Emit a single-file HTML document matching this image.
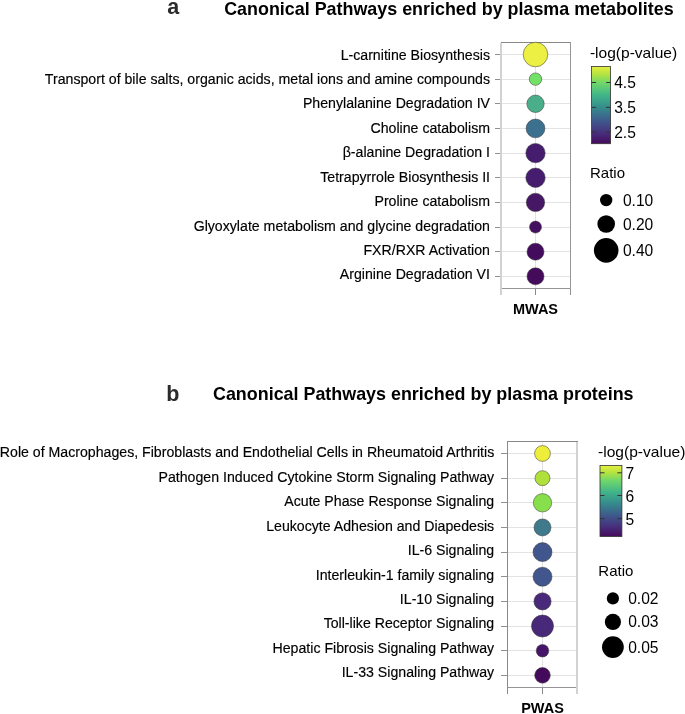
<!DOCTYPE html><html><head><meta charset="utf-8"><style>html,body{margin:0;padding:0;background:#fff;}svg{display:block;}</style></head><body>
<svg width="685" height="714" viewBox="0 0 685 714" font-family='"Liberation Sans", Arial, Helvetica, sans-serif'>
<defs>
<linearGradient id="g0" x1="0" y1="1" x2="0" y2="0">
<stop offset="0" stop-color="#450a5c"/>
<stop offset="0.14" stop-color="#472f7d"/>
<stop offset="0.3" stop-color="#3e5a8c"/>
<stop offset="0.47" stop-color="#358c8c"/>
<stop offset="0.62" stop-color="#3fb38a"/>
<stop offset="0.79" stop-color="#70d86a"/>
<stop offset="0.9" stop-color="#b5e340"/>
<stop offset="1" stop-color="#e6ee40"/>
</linearGradient>
<linearGradient id="g1" x1="0" y1="1" x2="0" y2="0">
<stop offset="0" stop-color="#450a5c"/>
<stop offset="0.14" stop-color="#472f7d"/>
<stop offset="0.3" stop-color="#3e5a8c"/>
<stop offset="0.47" stop-color="#358c8c"/>
<stop offset="0.62" stop-color="#3fb38a"/>
<stop offset="0.79" stop-color="#70d86a"/>
<stop offset="0.9" stop-color="#b5e340"/>
<stop offset="1" stop-color="#e6ee40"/>
</linearGradient>
</defs>
<rect width="685" height="714" fill="#fff"/>
<text x="167.2" y="13.6" font-size="21.5" font-weight="bold" fill="#2b2b2b">a</text>
<text x="224.2" y="14.5" font-size="17.9" font-weight="bold" fill="#000">Canonical Pathways enriched by plasma metabolites</text>
<line x1="501" y1="54.5" x2="570" y2="54.5" stroke="#e3e3e3" stroke-width="1"/>
<line x1="501" y1="79.5" x2="570" y2="79.5" stroke="#e3e3e3" stroke-width="1"/>
<line x1="501" y1="103.5" x2="570" y2="103.5" stroke="#e3e3e3" stroke-width="1"/>
<line x1="501" y1="128.5" x2="570" y2="128.5" stroke="#e3e3e3" stroke-width="1"/>
<line x1="501" y1="153.5" x2="570" y2="153.5" stroke="#e3e3e3" stroke-width="1"/>
<line x1="501" y1="177.5" x2="570" y2="177.5" stroke="#e3e3e3" stroke-width="1"/>
<line x1="501" y1="202.5" x2="570" y2="202.5" stroke="#e3e3e3" stroke-width="1"/>
<line x1="501" y1="227.5" x2="570" y2="227.5" stroke="#e3e3e3" stroke-width="1"/>
<line x1="501" y1="251.5" x2="570" y2="251.5" stroke="#e3e3e3" stroke-width="1"/>
<line x1="501" y1="276.5" x2="570" y2="276.5" stroke="#e3e3e3" stroke-width="1"/>
<line x1="535.5" y1="43" x2="535.5" y2="288" stroke="#e3e3e3" stroke-width="1"/>
<line x1="501" y1="42.5" x2="571" y2="42.5" stroke="#888" stroke-width="1"/>
<line x1="500" y1="288.5" x2="571" y2="288.5" stroke="#959595" stroke-width="1"/>
<rect x="500" y="43" width="2" height="252" fill="#d2d2d2"/>
<line x1="570.5" y1="42" x2="570.5" y2="295" stroke="#959595" stroke-width="1"/>
<line x1="535.5" y1="289" x2="535.5" y2="295" stroke="#8a8a8a" stroke-width="1"/>
<line x1="495" y1="54.5" x2="500" y2="54.5" stroke="#8f8f8f" stroke-width="1"/>
<line x1="495" y1="79.5" x2="500" y2="79.5" stroke="#8f8f8f" stroke-width="1"/>
<line x1="495" y1="103.5" x2="500" y2="103.5" stroke="#8f8f8f" stroke-width="1"/>
<line x1="495" y1="128.5" x2="500" y2="128.5" stroke="#8f8f8f" stroke-width="1"/>
<line x1="495" y1="153.5" x2="500" y2="153.5" stroke="#8f8f8f" stroke-width="1"/>
<line x1="495" y1="177.5" x2="500" y2="177.5" stroke="#8f8f8f" stroke-width="1"/>
<line x1="495" y1="202.5" x2="500" y2="202.5" stroke="#8f8f8f" stroke-width="1"/>
<line x1="495" y1="227.5" x2="500" y2="227.5" stroke="#8f8f8f" stroke-width="1"/>
<line x1="495" y1="251.5" x2="500" y2="251.5" stroke="#8f8f8f" stroke-width="1"/>
<line x1="495" y1="276.5" x2="500" y2="276.5" stroke="#8f8f8f" stroke-width="1"/>
<text x="490" y="59.6" font-size="14.15" text-anchor="end" fill="#000" stroke="#000" stroke-width="0.15">L-carnitine Biosynthesis</text>
<text x="490" y="84.02" font-size="14.15" text-anchor="end" fill="#000" stroke="#000" stroke-width="0.15">Transport of bile salts, organic acids, metal ions and amine compounds</text>
<text x="490" y="108.44" font-size="14.15" text-anchor="end" fill="#000" stroke="#000" stroke-width="0.15">Phenylalanine Degradation IV</text>
<text x="490" y="132.86" font-size="14.15" text-anchor="end" fill="#000" stroke="#000" stroke-width="0.15">Choline catabolism</text>
<text x="490" y="157.28" font-size="14.15" text-anchor="end" fill="#000" stroke="#000" stroke-width="0.15">β-alanine Degradation I</text>
<text x="490" y="181.7" font-size="14.15" text-anchor="end" fill="#000" stroke="#000" stroke-width="0.15">Tetrapyrrole Biosynthesis II</text>
<text x="490" y="206.12" font-size="14.15" text-anchor="end" fill="#000" stroke="#000" stroke-width="0.15">Proline catabolism</text>
<text x="490" y="230.54" font-size="14.15" text-anchor="end" fill="#000" stroke="#000" stroke-width="0.15">Glyoxylate metabolism and glycine degradation</text>
<text x="490" y="254.96" font-size="14.15" text-anchor="end" fill="#000" stroke="#000" stroke-width="0.15">FXR/RXR Activation</text>
<text x="490" y="279.38" font-size="14.15" text-anchor="end" fill="#000" stroke="#000" stroke-width="0.15">Arginine Degradation VI</text>
<circle cx="535.5" cy="54.5" r="12.3" fill="#ecf043" stroke="#3a3a3a" stroke-opacity="0.75" stroke-width="0.7"/>
<circle cx="535.5" cy="79.15" r="6.2" fill="#73e068" stroke="#3a3a3a" stroke-opacity="0.75" stroke-width="0.7"/>
<circle cx="535.5" cy="103.8" r="8.7" fill="#4aae8b" stroke="#3a3a3a" stroke-opacity="0.75" stroke-width="0.7"/>
<circle cx="535.5" cy="128.45" r="9.4" fill="#3b718f" stroke="#3a3a3a" stroke-opacity="0.75" stroke-width="0.7"/>
<circle cx="535.5" cy="153.1" r="9.7" fill="#461c6f" stroke="#3a3a3a" stroke-opacity="0.75" stroke-width="0.7"/>
<circle cx="535.5" cy="177.75" r="9.7" fill="#461c6f" stroke="#3a3a3a" stroke-opacity="0.75" stroke-width="0.7"/>
<circle cx="535.5" cy="202.4" r="9.2" fill="#461765" stroke="#3a3a3a" stroke-opacity="0.75" stroke-width="0.7"/>
<circle cx="535.5" cy="227.05" r="6" fill="#450f60" stroke="#3a3a3a" stroke-opacity="0.75" stroke-width="0.7"/>
<circle cx="535.5" cy="251.7" r="8.5" fill="#440c5d" stroke="#3a3a3a" stroke-opacity="0.75" stroke-width="0.7"/>
<circle cx="535.5" cy="276.35" r="8.5" fill="#440b5b" stroke="#3a3a3a" stroke-opacity="0.75" stroke-width="0.7"/>
<text x="535.5" y="313.8" font-size="14.5" font-weight="bold" text-anchor="middle" fill="#000">MWAS</text>
<text x="589.9" y="57.67" font-size="15.55" fill="#000">-log(p-value)</text>
<rect x="591.6" y="66.5" width="19" height="77.2" fill="url(#g0)" stroke="#333" stroke-width="0.8"/>
<line x1="591.6" y1="82.5" x2="596.1" y2="82.5" stroke="#333" stroke-width="1"/>
<line x1="606.1" y1="82.5" x2="610.6" y2="82.5" stroke="#333" stroke-width="1"/>
<text x="614.2" y="88.08" font-size="15.6" fill="#000">4.5</text>
<line x1="591.6" y1="107.4" x2="596.1" y2="107.4" stroke="#333" stroke-width="1"/>
<line x1="606.1" y1="107.4" x2="610.6" y2="107.4" stroke="#333" stroke-width="1"/>
<text x="614.2" y="112.98" font-size="15.6" fill="#000">3.5</text>
<line x1="591.6" y1="132.2" x2="596.1" y2="132.2" stroke="#333" stroke-width="1"/>
<line x1="606.1" y1="132.2" x2="610.6" y2="132.2" stroke="#333" stroke-width="1"/>
<text x="614.2" y="137.78" font-size="15.6" fill="#000">2.5</text>
<text x="590" y="178" font-size="15" fill="#000">Ratio</text>
<circle cx="606.2" cy="200.1" r="6.2" fill="#000"/>
<text x="622.9" y="205.68" font-size="15.6" fill="#000">0.10</text>
<circle cx="606.2" cy="224" r="8.8" fill="#000"/>
<text x="622.9" y="229.58" font-size="15.6" fill="#000">0.20</text>
<circle cx="606.2" cy="250.4" r="12.3" fill="#000"/>
<text x="622.9" y="255.98" font-size="15.6" fill="#000">0.40</text>
<text x="166.3" y="400.9" font-size="21.5" font-weight="bold" fill="#2b2b2b">b</text>
<text x="213" y="399.9" font-size="17.9" font-weight="bold" fill="#000">Canonical Pathways enriched by plasma proteins</text>
<line x1="508" y1="453.5" x2="577" y2="453.5" stroke="#e3e3e3" stroke-width="1"/>
<line x1="508" y1="478.5" x2="577" y2="478.5" stroke="#e3e3e3" stroke-width="1"/>
<line x1="508" y1="502.5" x2="577" y2="502.5" stroke="#e3e3e3" stroke-width="1"/>
<line x1="508" y1="527.5" x2="577" y2="527.5" stroke="#e3e3e3" stroke-width="1"/>
<line x1="508" y1="552.5" x2="577" y2="552.5" stroke="#e3e3e3" stroke-width="1"/>
<line x1="508" y1="576.5" x2="577" y2="576.5" stroke="#e3e3e3" stroke-width="1"/>
<line x1="508" y1="601.5" x2="577" y2="601.5" stroke="#e3e3e3" stroke-width="1"/>
<line x1="508" y1="626.5" x2="577" y2="626.5" stroke="#e3e3e3" stroke-width="1"/>
<line x1="508" y1="650.5" x2="577" y2="650.5" stroke="#e3e3e3" stroke-width="1"/>
<line x1="508" y1="675.5" x2="577" y2="675.5" stroke="#e3e3e3" stroke-width="1"/>
<line x1="542.5" y1="442" x2="542.5" y2="687" stroke="#e3e3e3" stroke-width="1"/>
<line x1="507" y1="441.5" x2="578" y2="441.5" stroke="#888" stroke-width="1"/>
<line x1="507" y1="687.5" x2="578" y2="687.5" stroke="#959595" stroke-width="1"/>
<line x1="507.5" y1="441" x2="507.5" y2="694" stroke="#8a8a8a" stroke-width="1"/>
<rect x="576" y="442" width="2" height="252" fill="#d2d2d2"/>
<line x1="542.5" y1="688" x2="542.5" y2="694" stroke="#8a8a8a" stroke-width="1"/>
<line x1="501" y1="453.5" x2="507" y2="453.5" stroke="#8f8f8f" stroke-width="1"/>
<line x1="501" y1="478.5" x2="507" y2="478.5" stroke="#8f8f8f" stroke-width="1"/>
<line x1="501" y1="502.5" x2="507" y2="502.5" stroke="#8f8f8f" stroke-width="1"/>
<line x1="501" y1="527.5" x2="507" y2="527.5" stroke="#8f8f8f" stroke-width="1"/>
<line x1="501" y1="552.5" x2="507" y2="552.5" stroke="#8f8f8f" stroke-width="1"/>
<line x1="501" y1="576.5" x2="507" y2="576.5" stroke="#8f8f8f" stroke-width="1"/>
<line x1="501" y1="601.5" x2="507" y2="601.5" stroke="#8f8f8f" stroke-width="1"/>
<line x1="501" y1="626.5" x2="507" y2="626.5" stroke="#8f8f8f" stroke-width="1"/>
<line x1="501" y1="650.5" x2="507" y2="650.5" stroke="#8f8f8f" stroke-width="1"/>
<line x1="501" y1="675.5" x2="507" y2="675.5" stroke="#8f8f8f" stroke-width="1"/>
<text x="494.2" y="457.3" font-size="14.15" text-anchor="end" fill="#000" stroke="#000" stroke-width="0.15">Role of Macrophages, Fibroblasts and Endothelial Cells in Rheumatoid Arthritis</text>
<text x="494.2" y="481.75" font-size="14.15" text-anchor="end" fill="#000" stroke="#000" stroke-width="0.15">Pathogen Induced Cytokine Storm Signaling Pathway</text>
<text x="494.2" y="506.2" font-size="14.15" text-anchor="end" fill="#000" stroke="#000" stroke-width="0.15">Acute Phase Response Signaling</text>
<text x="494.2" y="530.65" font-size="14.15" text-anchor="end" fill="#000" stroke="#000" stroke-width="0.15">Leukocyte Adhesion and Diapedesis</text>
<text x="494.2" y="555.1" font-size="14.15" text-anchor="end" fill="#000" stroke="#000" stroke-width="0.15">IL-6 Signaling</text>
<text x="494.2" y="579.55" font-size="14.15" text-anchor="end" fill="#000" stroke="#000" stroke-width="0.15">Interleukin-1 family signaling</text>
<text x="494.2" y="604" font-size="14.15" text-anchor="end" fill="#000" stroke="#000" stroke-width="0.15">IL-10 Signaling</text>
<text x="494.2" y="628.45" font-size="14.15" text-anchor="end" fill="#000" stroke="#000" stroke-width="0.15">Toll-like Receptor Signaling</text>
<text x="494.2" y="652.9" font-size="14.15" text-anchor="end" fill="#000" stroke="#000" stroke-width="0.15">Hepatic Fibrosis Signaling Pathway</text>
<text x="494.2" y="677.35" font-size="14.15" text-anchor="end" fill="#000" stroke="#000" stroke-width="0.15">IL-33 Signaling Pathway</text>
<circle cx="542.5" cy="453.5" r="7.9" fill="#eeee3a" stroke="#3a3a3a" stroke-opacity="0.75" stroke-width="0.7"/>
<circle cx="542.5" cy="478.15" r="7.5" fill="#b0e03a" stroke="#3a3a3a" stroke-opacity="0.75" stroke-width="0.7"/>
<circle cx="542.5" cy="502.8" r="9.2" fill="#88df4c" stroke="#3a3a3a" stroke-opacity="0.75" stroke-width="0.7"/>
<circle cx="542.5" cy="527.45" r="8.5" fill="#3f7a8c" stroke="#3a3a3a" stroke-opacity="0.75" stroke-width="0.7"/>
<circle cx="542.5" cy="552.1" r="9.5" fill="#40568c" stroke="#3a3a3a" stroke-opacity="0.75" stroke-width="0.7"/>
<circle cx="542.5" cy="576.75" r="9.5" fill="#40568c" stroke="#3a3a3a" stroke-opacity="0.75" stroke-width="0.7"/>
<circle cx="542.5" cy="601.4" r="8.6" fill="#48297a" stroke="#3a3a3a" stroke-opacity="0.75" stroke-width="0.7"/>
<circle cx="542.5" cy="626.05" r="11" fill="#482878" stroke="#3a3a3a" stroke-opacity="0.75" stroke-width="0.7"/>
<circle cx="542.5" cy="650.7" r="6.3" fill="#46146a" stroke="#3a3a3a" stroke-opacity="0.75" stroke-width="0.7"/>
<circle cx="542.5" cy="675.35" r="7.8" fill="#440a5c" stroke="#3a3a3a" stroke-opacity="0.75" stroke-width="0.7"/>
<text x="542.5" y="712.6" font-size="14.5" font-weight="bold" text-anchor="middle" fill="#000">PWAS</text>
<text x="598.1" y="456.77" font-size="15.55" fill="#000">-log(p-value)</text>
<rect x="600" y="465.5" width="21.9" height="71" fill="url(#g1)" stroke="#333" stroke-width="0.8"/>
<line x1="600" y1="472.8" x2="604.5" y2="472.8" stroke="#333" stroke-width="1"/>
<line x1="617.4" y1="472.8" x2="621.9" y2="472.8" stroke="#333" stroke-width="1"/>
<text x="625.5" y="478.88" font-size="15.6" fill="#000">7</text>
<line x1="600" y1="495.5" x2="604.5" y2="495.5" stroke="#333" stroke-width="1"/>
<line x1="617.4" y1="495.5" x2="621.9" y2="495.5" stroke="#333" stroke-width="1"/>
<text x="625.5" y="501.58" font-size="15.6" fill="#000">6</text>
<line x1="600" y1="518.6" x2="604.5" y2="518.6" stroke="#333" stroke-width="1"/>
<line x1="617.4" y1="518.6" x2="621.9" y2="518.6" stroke="#333" stroke-width="1"/>
<text x="625.5" y="524.68" font-size="15.6" fill="#000">5</text>
<text x="598.3" y="576" font-size="15" fill="#000">Ratio</text>
<circle cx="612.9" cy="598.4" r="6.1" fill="#000"/>
<text x="628.2" y="603.98" font-size="15.6" fill="#000">0.02</text>
<circle cx="612.9" cy="621.9" r="8.1" fill="#000"/>
<text x="628.2" y="627.48" font-size="15.6" fill="#000">0.03</text>
<circle cx="612.9" cy="647.1" r="10.9" fill="#000"/>
<text x="628.2" y="652.68" font-size="15.6" fill="#000">0.05</text>
</svg></body></html>
